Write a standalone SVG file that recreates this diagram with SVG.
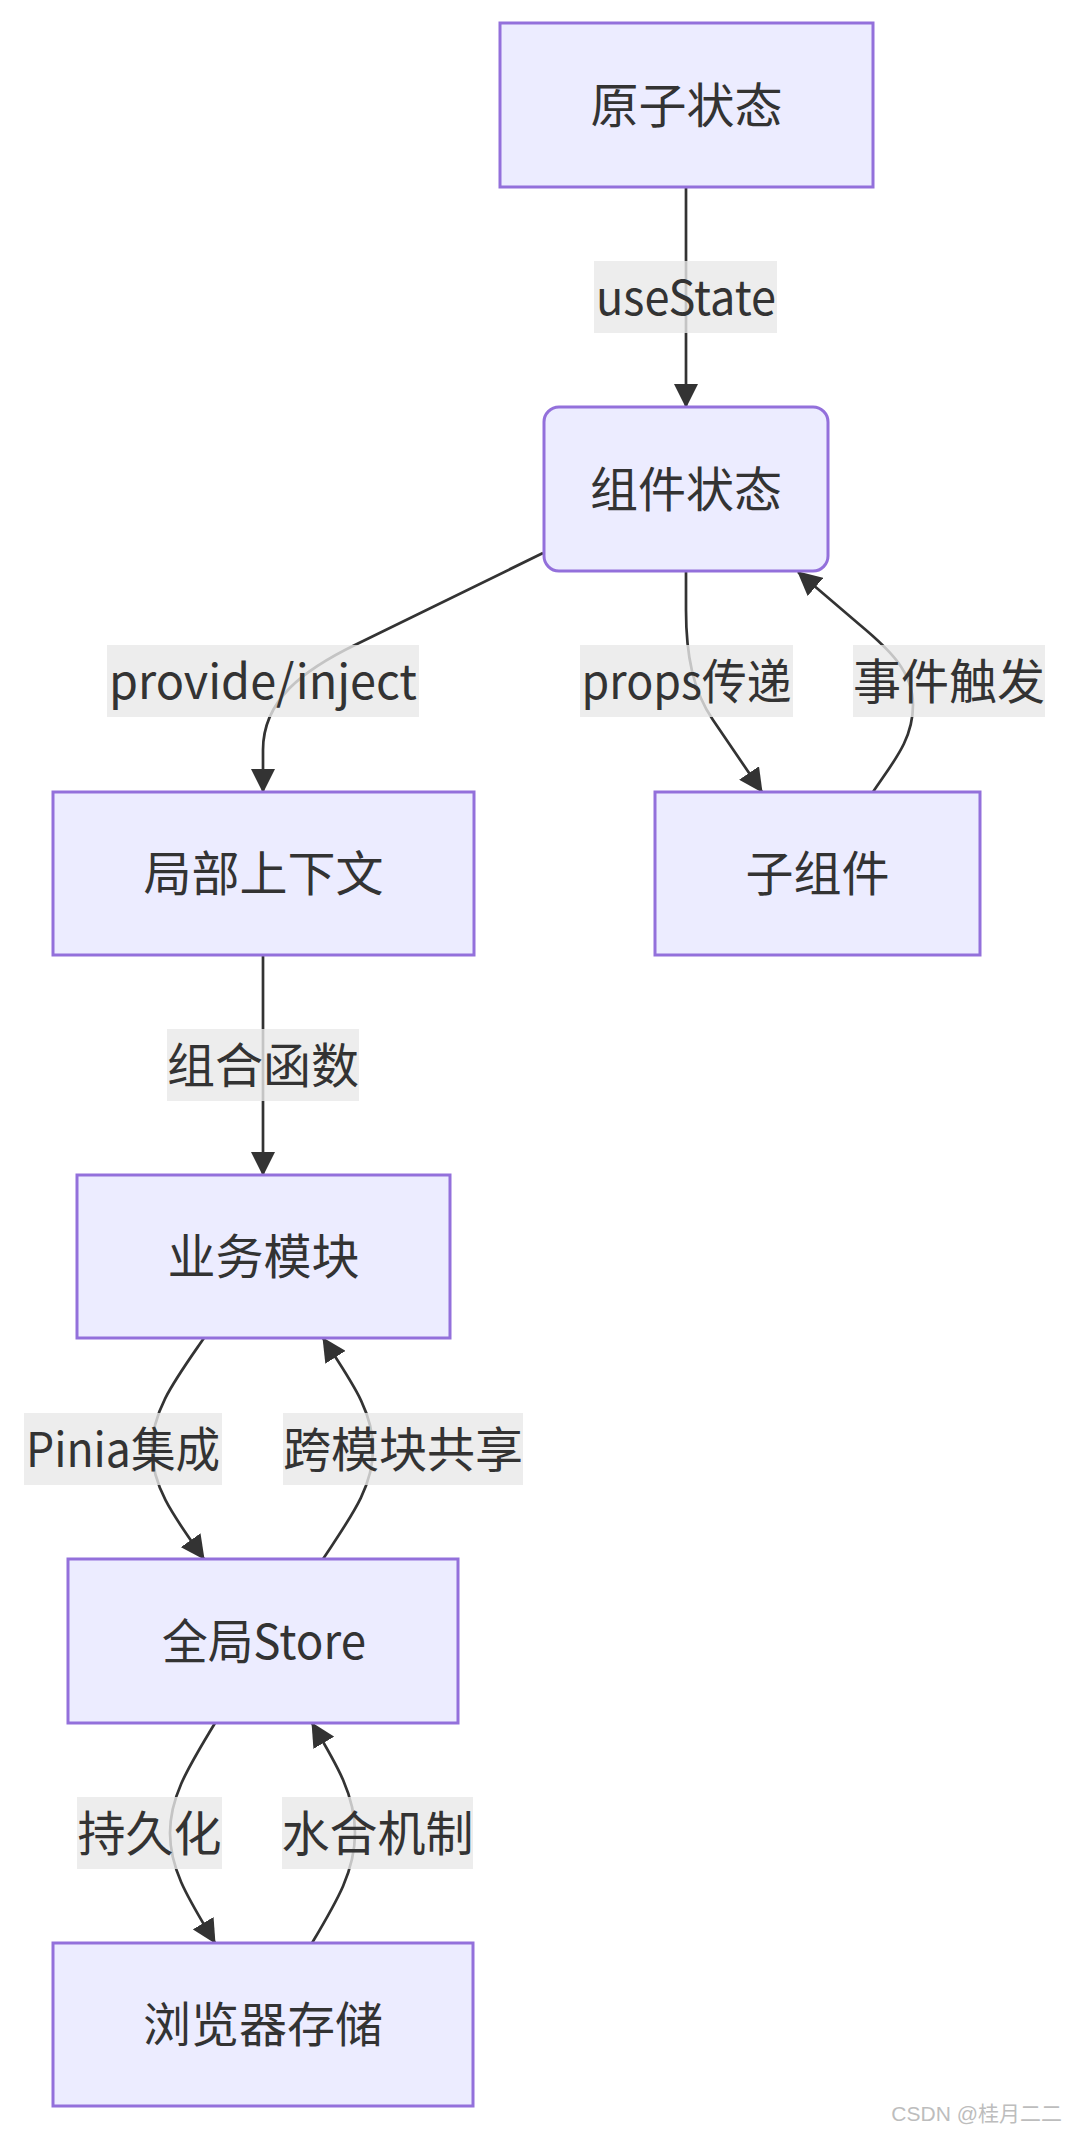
<svg xmlns="http://www.w3.org/2000/svg" width="1068" height="2130" viewBox="0 0 1068 2130">
<style>
  .node rect { fill: #ECECFF; stroke: #9370DB; stroke-width: 3; }
  .node text { fill: #333333; font-family: "Noto Sans CJK SC", "Noto Sans", sans-serif; font-size: 48px; text-anchor: middle; dominant-baseline: central; }
  .edge { fill: none; stroke: #333333; stroke-width: 2.7; marker-end: url(#arrow); }
  .lbl rect { fill: rgba(232,232,232,0.8); }
  .lbl text { fill: #333333; font-family: "Noto Sans CJK SC", "Noto Sans", sans-serif; font-size: 48px; text-anchor: middle; dominant-baseline: central; }
  .wm { fill: #bdbdbd; font-family: "Liberation Sans", "Noto Sans CJK SC", sans-serif; font-size: 21px; text-anchor: end; }
</style>
<defs>
  <marker id="arrow" markerUnits="userSpaceOnUse" viewBox="0 0 24 24" refX="23" refY="12" markerWidth="24" markerHeight="24" orient="auto">
    <path d="M0,0 L24,12 L0,24 z" fill="#333333"/>
  </marker>
</defs>
<rect x="0" y="0" width="1068" height="2130" fill="#ffffff"/>

<g id="connectors">
  <path class="edge" d="M686,187 L686,407"/>
  <path class="edge" d="M543,553 L357,644 C303,670 263,700 263,750 L263,792"/>
  <path class="edge" d="M686,571 L686,610 C686,655 693,691 713,720 L762,792"/>
  <path class="edge" d="M873,792 C893,762 913,740 913,705 C913,672 890,650 860,625 L798,572"/>
  <path class="edge" d="M263,955 L263,1175"/>
  <path class="edge" d="M204,1338 C175,1380 152,1410 152,1449 C152,1488 175,1518 204,1559"/>
  <path class="edge" d="M323,1559 C350,1518 373,1488 373,1449 C373,1410 350,1380 323,1338"/>
  <path class="edge" d="M215,1723 C190,1765 170,1795 170,1833 C170,1871 190,1901 215,1943"/>
  <path class="edge" d="M312,1943 C337,1901 355,1871 355,1833 C355,1795 337,1765 312,1723"/>
</g>

<g id="edge-labels">
  <g class="lbl"><rect x="594" y="261" width="183" height="72"/><text x="686" y="294" textLength="180" lengthAdjust="spacingAndGlyphs">useState</text></g>
  <g class="lbl"><rect x="107" y="645" width="312" height="72"/><text x="263" y="678" textLength="308" lengthAdjust="spacingAndGlyphs">provide/inject</text></g>
  <g class="lbl"><rect x="580" y="645" width="213" height="72"/><text x="686.5" y="678" textLength="210" lengthAdjust="spacingAndGlyphs">props传递</text></g>
  <g class="lbl"><rect x="853" y="645" width="192" height="72"/><text x="949" y="678">事件触发</text></g>
  <g class="lbl"><rect x="167" y="1029" width="192" height="72"/><text x="263" y="1062">组合函数</text></g>
  <g class="lbl"><rect x="24" y="1413" width="198" height="72"/><text x="123" y="1446" textLength="194" lengthAdjust="spacingAndGlyphs">Pinia集成</text></g>
  <g class="lbl"><rect x="283" y="1413" width="240" height="72"/><text x="403" y="1446">跨模块共享</text></g>
  <g class="lbl"><rect x="77" y="1797" width="145" height="72"/><text x="149.5" y="1830">持久化</text></g>
  <g class="lbl"><rect x="282" y="1797" width="191" height="72"/><text x="377.5" y="1830">水合机制</text></g>
</g>

<g id="node-atomic" class="node"><rect x="500" y="23" width="373" height="164"/><text x="686.5" y="102">原子状态</text></g>
<g id="node-component" class="node"><rect x="544" y="407" width="284" height="164" rx="15" ry="15"/><text x="686" y="486">组件状态</text></g>
<g id="node-context" class="node"><rect x="53" y="792" width="421" height="163"/><text x="263.5" y="870">局部上下文</text></g>
<g id="node-child" class="node"><rect x="655" y="792" width="325" height="163"/><text x="817.5" y="870">子组件</text></g>
<g id="node-business" class="node"><rect x="77" y="1175" width="373" height="163"/><text x="263.5" y="1253">业务模块</text></g>
<g id="node-store" class="node"><rect x="68" y="1559" width="390" height="164"/><text x="264" y="1638" textLength="204" lengthAdjust="spacingAndGlyphs">全局Store</text></g>
<g id="node-storage" class="node"><rect x="53" y="1943" width="420" height="163"/><text x="263" y="2021">浏览器存储</text></g>

<text class="wm" x="1062" y="2121">CSDN @桂月二二</text>
</svg>
